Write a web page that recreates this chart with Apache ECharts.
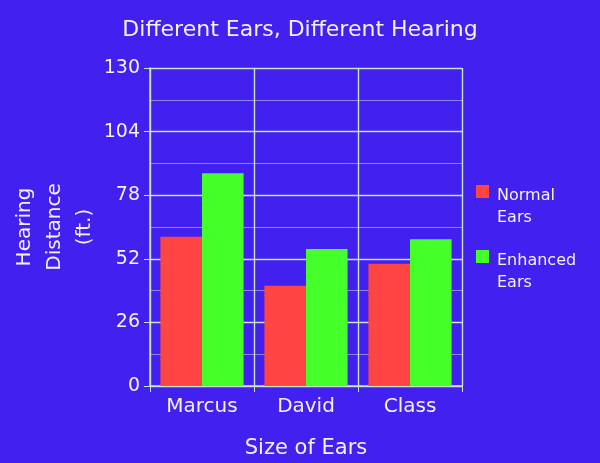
<!DOCTYPE html>
<html><head><meta charset="utf-8">
<script src="https://cdn.jsdelivr.net/npm/echarts@6/dist/echarts.min.js"></script>
<style>html,body{margin:0;padding:0;background:#4220F0}#c{width:600px;height:463px}</style>
</head><body><div id="c"></div>
<script>
var categories = ['Marcus', 'David', 'Class'];
var seriesNames = ['Normal Ears', 'Enhanced Ears'];
var normalEars = [61, 41, 50];
var enhancedEars = [87, 56, 60];
var yTicks = { min: 0, max: 130, interval: 26 };

var font = '"DejaVu Sans", sans-serif';
var txt = '#F4F0FF';
var gridCol = '#C8E4C8';
var legendIcon = 'path://M0,0 L13,0 L13,13 L0,13 Z M6,43.9 L6.01,43.9 L6.01,44 L6,44 Z';

var chart = echarts.init(document.getElementById('c'));
chart.setOption({
  backgroundColor: '#4220F0',
  animation: false,
  textStyle: { fontFamily: font },
  title: {
    text: 'Different Ears, Different Hearing',
    left: 'center', top: 14,
    textStyle: { color: txt, fontSize: 22, fontWeight: 'normal', fontFamily: font }
  },
  grid: { left: 150, right: 138, top: 68, bottom: 77, containLabel: false, outerBoundsMode: 'none' },
  legend: {
    orient: 'vertical', left: 476, top: 185, padding: 0,
    itemWidth: 13, itemHeight: 44, itemGap: 21,
    icon: legendIcon,
    data: seriesNames,
    formatter: function (n) { return n.replace(' ', '\n'); },
    textStyle: { color: txt, fontSize: 16, lineHeight: 22, fontFamily: font, padding: [0, 0, 0, 3] }
  },
  xAxis: {
    type: 'category', data: categories,
    name: 'Size of Ears', nameLocation: 'middle', nameGap: 52,
    nameTextStyle: { color: txt, fontSize: 21, fontFamily: font },
    axisLine: { lineStyle: { color: gridCol, width: 1.5 } },
    axisTick: { show: true, length: 6, lineStyle: { color: gridCol } },
    axisLabel: { color: txt, fontSize: 20, margin: 11, fontFamily: font },
    splitLine: { show: true, lineStyle: { color: gridCol, width: 1.4 } }
  },
  yAxis: {
    type: 'value', min: yTicks.min, max: yTicks.max, interval: yTicks.interval,
    name: 'Hearing\nDistance\n(ft.)', nameLocation: 'middle', nameGap: 50, nameRotate: 90,
    nameMoveOverlap: false,
    nameTextStyle: { color: txt, fontSize: 20, lineHeight: 30, fontFamily: font },
    axisLine: { show: true, lineStyle: { color: gridCol, width: 1.5 } },
    axisTick: { show: true, length: 6, lineStyle: { color: gridCol } },
    axisLabel: { color: txt, fontSize: 19, margin: 10, fontFamily: font },
    splitLine: { show: true, lineStyle: { color: gridCol, width: 1.4 } },
    minorTick: { show: false, splitNumber: 2 },
    minorSplitLine: { show: true, lineStyle: { color: '#8C84E8', width: 1 } }
  },
  series: [
    { name: seriesNames[0], type: 'bar', data: normalEars, barGap: '0%', barCategoryGap: '20%',
      itemStyle: { color: '#FF4444' } },
    { name: seriesNames[1], type: 'bar', data: enhancedEars, barGap: '0%', barCategoryGap: '20%',
      itemStyle: { color: '#44FF2A' } }
  ]
});
</script></body></html>
